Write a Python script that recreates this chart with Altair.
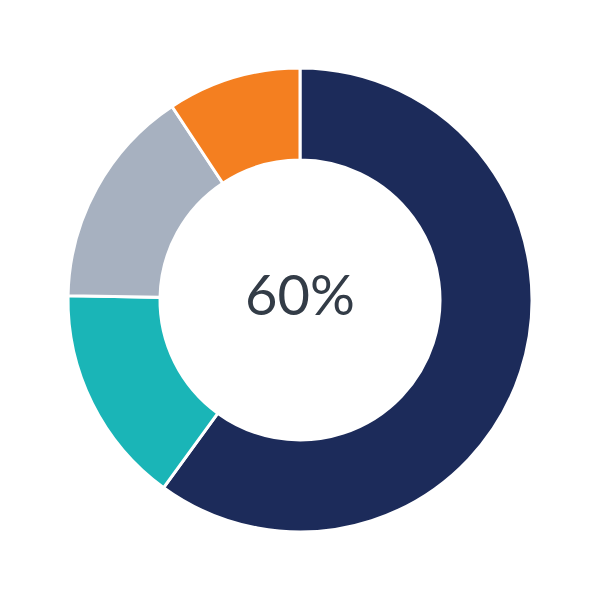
import altair as alt
import pandas as pd

categories = ["A", "B", "C", "D"]
values = [60, 15.3, 15.4, 9.3]
colors = ["#1c2b5a", "#1ab5b7", "#a7b1c0", "#f47f20"]
center_label = "60%"

df = pd.DataFrame({"cat": categories, "value": values, "order": list(range(len(categories)))})

arcs = alt.Chart(df).mark_arc(outerRadius=232, innerRadius=140, stroke="white", strokeWidth=3).encode(
    theta=alt.Theta("value:Q", stack=True),
    color=alt.Color("cat:N", scale=alt.Scale(domain=categories, range=colors), legend=None),
    order=alt.Order("order:Q"),
)

text = alt.Chart(pd.DataFrame({"t": [center_label]})).mark_text(
    font="Lato", fontSize=56, fontWeight=400, color="#333c47", baseline="middle", align="center", dy=-2
).encode(text="t:N")

chart = alt.layer(arcs, text).properties(
    width=584, height=584, padding=0, autosize=alt.AutoSizeParams(type="none")
).configure_view(stroke=None)

chart.save("out.html", embed_options={"renderer": "svg", "actions": False})
